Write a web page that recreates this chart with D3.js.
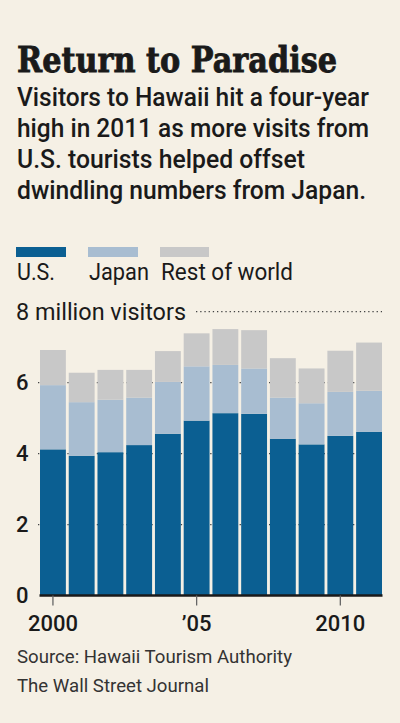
<!DOCTYPE html>
<html>
<head>
<meta charset="utf-8">
<script src="https://cdn.jsdelivr.net/npm/d3@7"></script>
<style>
  html, body { margin: 0; padding: 0; background: #f5f0e5; }
  svg { display: block; }
</style>
</head>
<body>
<div id="chart"></div>
<script>
// values, millions of visitors
const years = [2000, 2001, 2002, 2003, 2004, 2005, 2006, 2007, 2008, 2009, 2010, 2011];
const usVisitors = [4.12, 3.94, 4.04, 4.24, 4.56, 4.93, 5.14, 5.12, 4.42, 4.26, 4.50, 4.61];
const japanVisitors = [1.81, 1.51, 1.48, 1.34, 1.46, 1.53, 1.36, 1.28, 1.16, 1.16, 1.24, 1.16];
const restVisitors = [0.99, 0.83, 0.84, 0.78, 0.87, 0.93, 1.01, 1.08, 1.11, 0.98, 1.16, 1.36];

const seriesKeys = ["us", "japan", "rest"];
const seriesLabels = ["U.S.", "Japan", "Rest of world"];
const seriesColors = ["#0b5f92", "#a8bdd1", "#c8c8c8"];

const yTicks = [0, 2, 4, 6, 8];
const xTickYears = [2000, 2005, 2010];
const xTickLabels = ["2000", "\u201905", "2010"];

const title = "Return to Paradise";
const subtitle = [
  "Visitors to Hawaii hit a four-year",
  "high in 2011 as more visits from",
  "U.S. tourists helped offset",
  "dwindling numbers from Japan."
];
const subtitleWidths = [352, 352, 288, 349];
const sourceLines = ["Source: Hawaii Tourism Authority", "The Wall Street Journal"];

const W = 400, H = 723;
const sans = "Roboto, 'Open Sans', sans-serif";
const ink = "#1a1a1a";

const rows = years.map((yr, i) => ({
  year: yr,
  us: usVisitors[i],
  japan: japanVisitors[i],
  rest: restVisitors[i]
}));

const svg = d3.select("#chart")
  .append("svg")
  .attr("width", W)
  .attr("height", H);

svg.append("rect")
  .attr("width", W)
  .attr("height", H)
  .attr("fill", "#f5f0e5");

// Headline (slab serif look: bold serif + a thin stroke to thicken)
svg.append("text")
  .attr("x", 17)
  .attr("y", 72)
  .attr("textLength", 320)
  .attr("lengthAdjust", "spacingAndGlyphs")
  .style("font-family", "'DejaVu Serif', serif")
  .style("font-weight", "bold")
  .style("font-size", "36px")
  .style("fill", ink)
  .style("stroke", ink)
  .style("stroke-width", 0.9)
  .text(title);

svg.selectAll("text.sub")
  .data(subtitle)
  .enter()
  .append("text")
  .attr("class", "sub")
  .attr("x", 17)
  .attr("y", (d, i) => 106 + 31 * i)
  .attr("textLength", (d, i) => subtitleWidths[i])
  .attr("lengthAdjust", "spacingAndGlyphs")
  .style("font-family", sans)
  .style("font-weight", 500)
  .style("font-size", "25px")
  .style("fill", ink)
  .text(d => d);

// Legend
const legendX = [16, 88, 160];
const legendW = [50, 50, 49];
svg.selectAll("rect.key")
  .data(seriesKeys)
  .enter()
  .append("rect")
  .attr("class", "key")
  .attr("x", (d, i) => legendX[i])
  .attr("y", 247)
  .attr("width", (d, i) => legendW[i])
  .attr("height", 10)
  .attr("fill", (d, i) => seriesColors[i]);

svg.selectAll("text.key")
  .data(seriesLabels)
  .enter()
  .append("text")
  .attr("class", "key")
  .attr("x", (d, i) => legendX[i] + 1)
  .attr("y", 280)
  .attr("textLength", (d, i) => [38, 60, 132][i])
  .attr("lengthAdjust", "spacingAndGlyphs")
  .style("font-family", sans)
  .style("font-size", "23px")
  .style("fill", ink)
  .text(d => d);

// Scales
const x = d3.scaleBand()
  .domain(years)
  .range([40, 382])
  .paddingInner(0.1);

const y = d3.scaleLinear()
  .domain([0, 8])
  .range([595.5, 311.7]);

// Gridlines (dotted, behind bars)
svg.append("g")
  .selectAll("line")
  .data(yTicks.filter(d => d > 0))
  .enter()
  .append("line")
  .attr("x1", d => d === 8 ? 196 : 38)
  .attr("x2", 382)
  .attr("y1", d => y(d))
  .attr("y2", d => y(d))
  .attr("stroke", "#444")
  .attr("stroke-width", 1.3)
  .attr("stroke-dasharray", "1.3,2.9");

// Bars
const stacked = d3.stack().keys(seriesKeys)(rows);

svg.append("g")
  .selectAll("g")
  .data(stacked)
  .enter()
  .append("g")
  .attr("fill", (d, i) => seriesColors[i])
  .selectAll("rect")
  .data(d => d)
  .enter()
  .append("rect")
  .attr("x", d => x(d.data.year))
  .attr("width", x.bandwidth())
  .attr("y", d => y(d[1]))
  .attr("height", d => y(d[0]) - y(d[1]));

// Y labels
svg.selectAll("text.ytick")
  .data(yTicks.filter(d => d < 8))
  .enter()
  .append("text")
  .attr("class", "ytick")
  .attr("x", 16)
  .attr("y", d => y(d))
  .attr("dy", "0.35em")
  .style("font-family", sans)
  .style("font-weight", 500)
  .style("font-size", "22px")
  .style("fill", ink)
  .text(d => d);

svg.append("text")
  .attr("x", 16)
  .attr("y", 320)
  .attr("textLength", 170)
  .attr("lengthAdjust", "spacingAndGlyphs")
  .style("font-family", sans)
  .style("font-size", "23px")
  .style("fill", ink)
  .text(yTicks[yTicks.length - 1] + " million visitors");

// X axis
const xAxis = d3.axisBottom(x)
  .tickValues(xTickYears)
  .tickFormat((d, i) => xTickLabels[i])
  .tickSize(10)
  .tickSizeOuter(0)
  .tickPadding(10);

const gx = svg.append("g")
  .attr("transform", `translate(0,${y(0)})`)
  .call(xAxis);

gx.select(".domain")
  .attr("stroke", ink)
  .attr("stroke-width", 2.5)
  .attr("d", `M39.5,0H382.5`);

gx.selectAll(".tick line")
  .attr("stroke", "#666")
  .attr("stroke-width", 1.3);

gx.selectAll(".tick text")
  .style("font-family", sans)
  .style("font-weight", 500)
  .style("font-size", "22px")
  .style("fill", ink);

// Source
svg.selectAll("text.src")
  .data(sourceLines)
  .enter()
  .append("text")
  .attr("class", "src")
  .attr("x", 17)
  .attr("y", (d, i) => 663 + 29 * i)
  .attr("textLength", (d, i) => [275, 192][i])
  .attr("lengthAdjust", "spacingAndGlyphs")
  .style("font-family", sans)
  .style("font-size", "19px")
  .style("fill", "#333")
  .text(d => d);
</script>
</body>
</html>
